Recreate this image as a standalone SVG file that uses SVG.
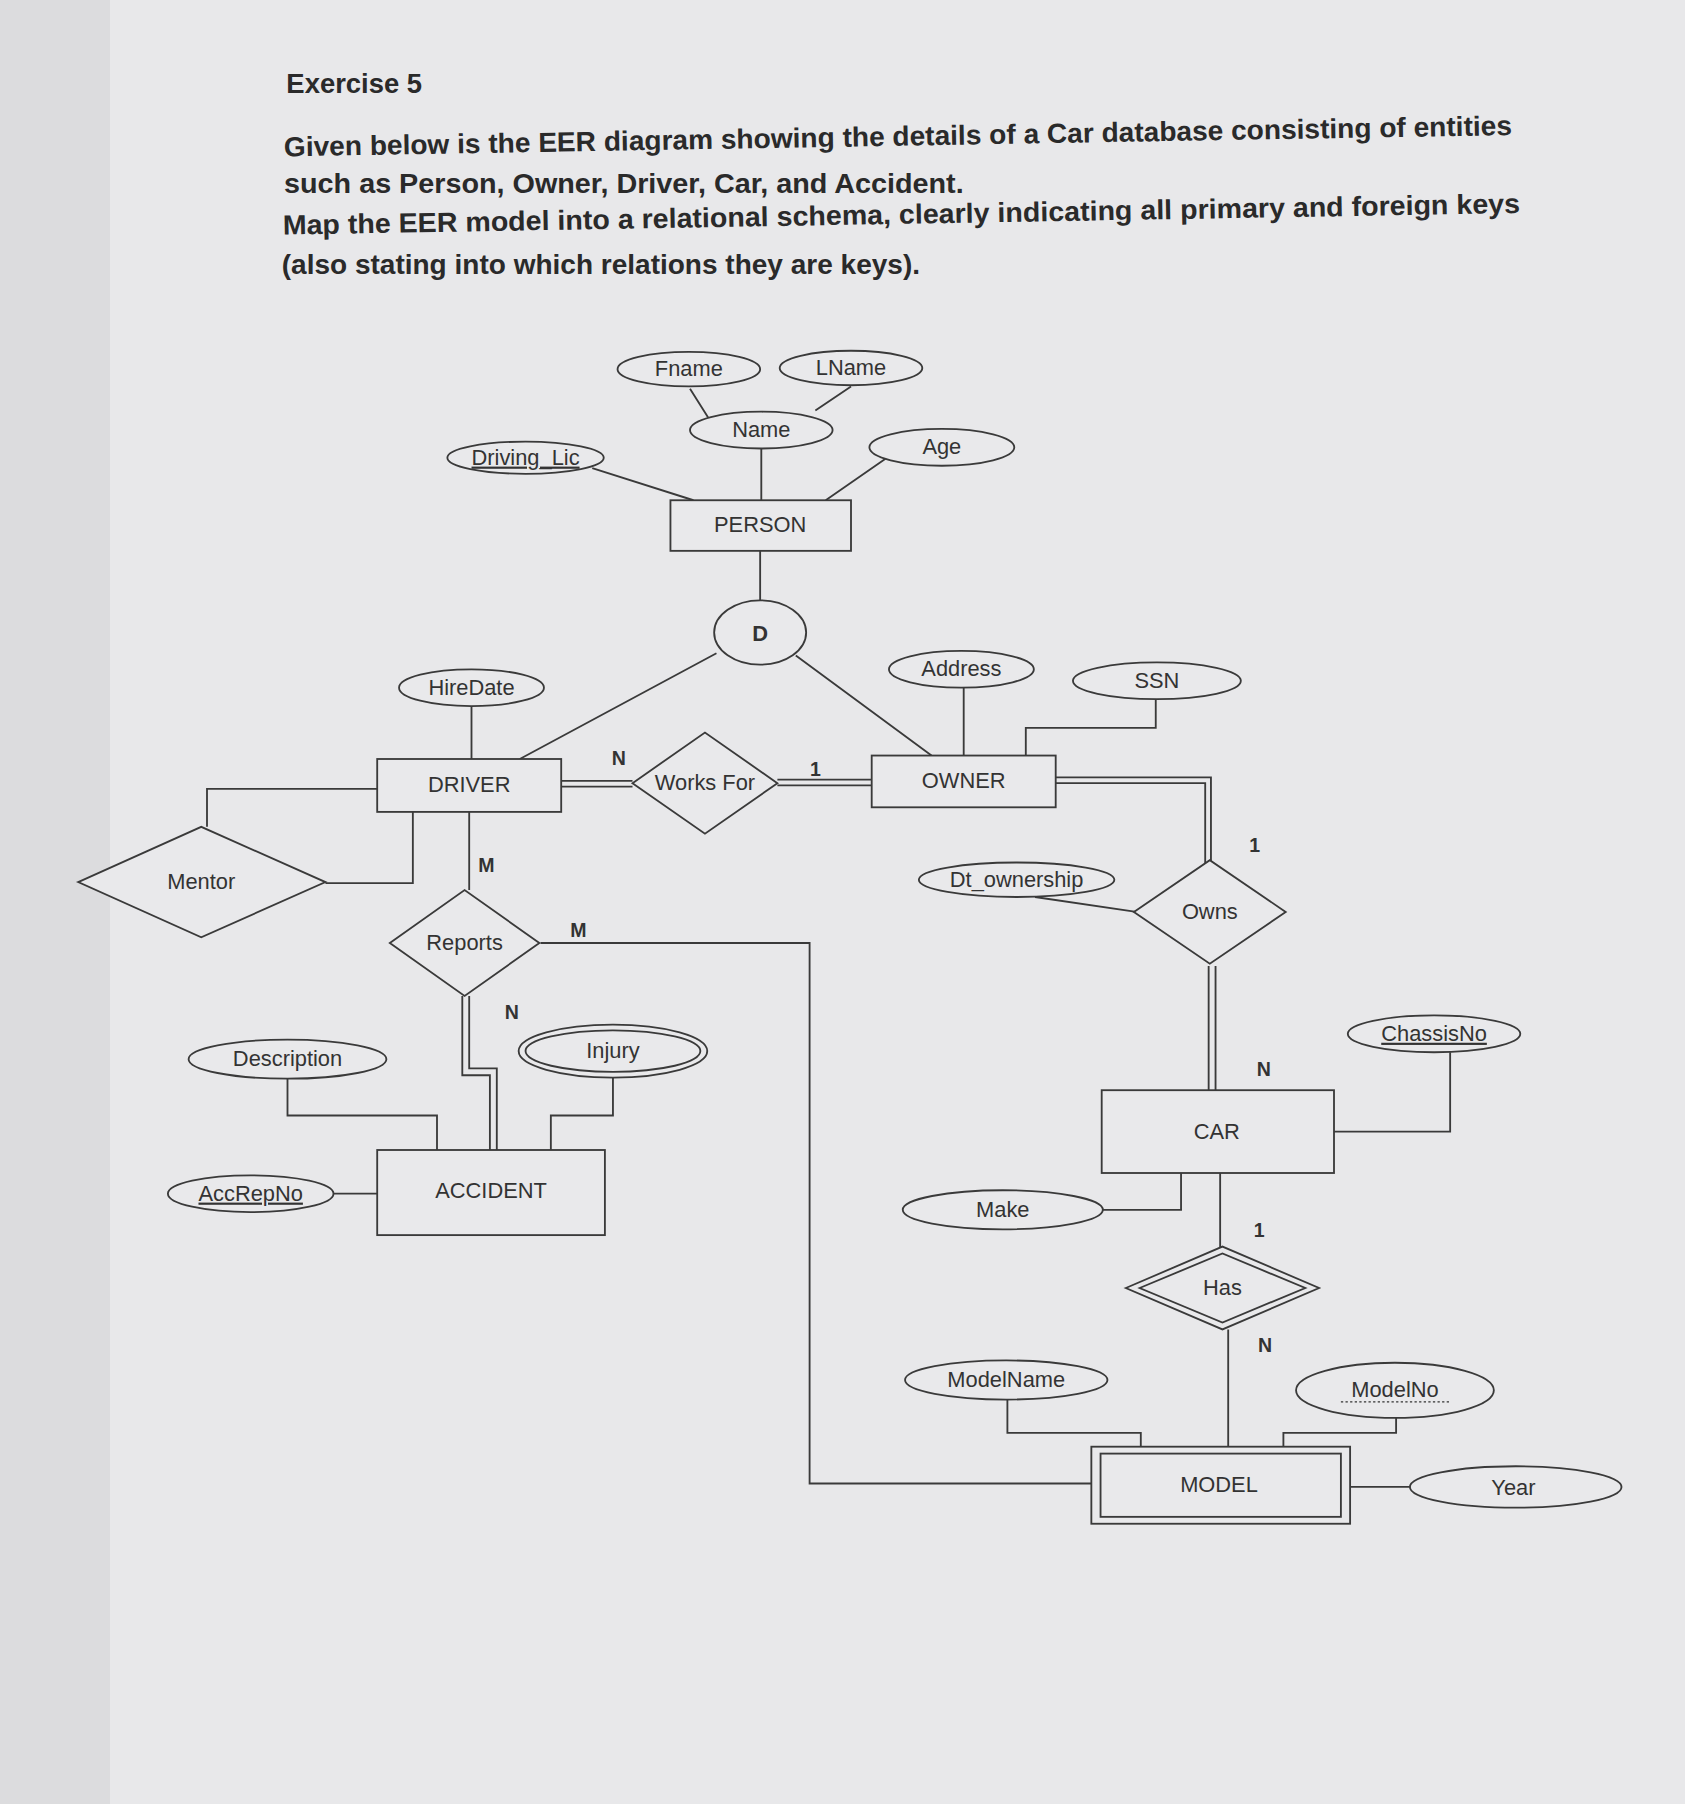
<svg xmlns="http://www.w3.org/2000/svg" width="1685" height="1804" viewBox="0 0 1685 1804">
<style>
.s{fill:none;stroke:#3a3a3a;stroke-width:1.6}
.n{fill:#e9e9eb;stroke:#3a3a3a;stroke-width:1.6}
.t{font-family:"Liberation Sans",Arial,sans-serif;font-size:19px;fill:#333;text-anchor:middle}
.h{font-family:"Liberation Sans",Arial,sans-serif;font-size:24px;font-weight:bold;fill:#2a2a2a}
.l{font-family:"Liberation Sans",Arial,sans-serif;font-size:17px;font-weight:bold;fill:#333;text-anchor:middle}
</style>
<rect width="1685" height="1804" fill="#e8e8ea"/>
<rect width="110" height="1804" fill="#dcdcde"/>
<g transform="scale(1.15)">
<text class="h" x="249" y="81" textLength="118" lengthAdjust="spacingAndGlyphs">Exercise 5</text>
<text class="h" x="247" y="136" transform="rotate(-1 247 136)" textLength="1068" lengthAdjust="spacingAndGlyphs">Given below is the EER diagram showing the details of a Car database consisting of entities</text>
<text class="h" x="247" y="168" textLength="591" lengthAdjust="spacingAndGlyphs">such as Person, Owner, Driver, Car, and Accident.</text>
<text class="h" x="246" y="204" transform="rotate(-1 246 204)" textLength="1076" lengthAdjust="spacingAndGlyphs">Map the EER model into a relational schema, clearly indicating all primary and foreign keys</text>
<text class="h" x="245" y="238" textLength="555" lengthAdjust="spacingAndGlyphs">(also stating into which relations they are keys).</text>

<g id="connectors">
<path class="s" d="M600 338L617 365M740 336L709 357M662 390V435M770 399L718 435M515 407L603 435M661 479V522M623 568L452 660M692 570L810 657M410 614V660M838 598V657M1005 608V633H892V657"/>
<path class="s" d="M488 679H550M488 684H550M676 678H758M676 683H758"/>
<path class="s" d="M918 676H1053V750M918 681H1048V752"/>
<path class="s" d="M180 719V686H328M283 768H359V706M408 706V774"/>
<path class="s" d="M402 866V935H426V1000M408 866V929H432V1000"/>
<path class="s" d="M470 820H704V1290H949"/>
<path class="s" d="M250 938V970H380V1000M533 937V970H479V1000M290 1038H328M900 780L988 793"/>
<path class="s" d="M1051 840V948M1057 840V948M1261 915V984H1160M959 1052H1027V1020M1061 1020V1085M1068 1156V1258"/>
<path class="s" d="M876 1217V1246H992V1258M1214 1233V1246H1116V1258M1174 1293H1226"/>
<text class="l" x="538" y="665">N</text>
<text class="l" x="709" y="675">1</text>
<text class="l" x="1091" y="741">1</text>
<text class="l" x="423" y="758">M</text>
<text class="l" x="503" y="815">M</text>
<text class="l" x="445" y="886">N</text>
<text class="l" x="1099" y="936">N</text>
<text class="l" x="1095" y="1076">1</text>
<text class="l" x="1100" y="1176">N</text>
</g>

<g id="Fname"><ellipse class="n" cx="599" cy="321" rx="62" ry="15"/><text class="t" x="599" y="327">Fname</text></g>
<g id="LName"><ellipse class="n" cx="740" cy="320" rx="62" ry="15"/><text class="t" x="740" y="326">LName</text></g>
<g id="Name"><ellipse class="n" cx="662" cy="374" rx="62" ry="16"/><text class="t" x="662" y="380">Name</text></g>
<g id="Age"><ellipse class="n" cx="819" cy="389" rx="63" ry="16"/><text class="t" x="819" y="395">Age</text></g>
<g id="Driving_Lic"><ellipse class="n" cx="457" cy="398" rx="68" ry="14"/><text class="t" x="457" y="404" text-decoration="underline">Driving_Lic</text></g>
<g id="PERSON"><rect class="n" x="583" y="435" width="157" height="44"/><text class="t" x="661" y="463">PERSON</text></g>
<g id="D"><ellipse class="n" cx="661" cy="550" rx="40" ry="28"/><text class="t" x="661" y="557" font-weight="bold">D</text></g>
<g id="HireDate"><ellipse class="n" cx="410" cy="598" rx="63" ry="16"/><text class="t" x="410" y="604">HireDate</text></g>
<g id="Address"><ellipse class="n" cx="836" cy="582" rx="63" ry="16"/><text class="t" x="836" y="588">Address</text></g>
<g id="SSN"><ellipse class="n" cx="1006" cy="592" rx="73" ry="16"/><text class="t" x="1006" y="598">SSN</text></g>
<g id="DRIVER"><rect class="n" x="328" y="660" width="160" height="46"/><text class="t" x="408" y="689">DRIVER</text></g>
<g id="WorksFor"><polygon class="n" points="550,681 613,637 676,681 613,725"/><text class="t" x="613" y="687">Works For</text></g>
<g id="OWNER"><rect class="n" x="758" y="657" width="160" height="45"/><text class="t" x="838" y="685">OWNER</text></g>
<g id="Mentor"><polygon class="n" points="68,767 175,719 283,767 175,815"/><text class="t" x="175" y="773">Mentor</text></g>
<g id="Reports"><polygon class="n" points="339,820 404,774 469,820 404,866"/><text class="t" x="404" y="826">Reports</text></g>
<g id="Dt_ownership"><ellipse class="n" cx="884" cy="765" rx="85" ry="15"/><text class="t" x="884" y="771">Dt_ownership</text></g>
<g id="Owns"><polygon class="n" points="986,793 1052,748 1118,793 1052,838"/><text class="t" x="1052" y="799">Owns</text></g>
<g id="Description"><ellipse class="n" cx="250" cy="921" rx="86" ry="17"/><text class="t" x="250" y="927">Description</text></g>
<g id="Injury"><ellipse class="n" cx="533" cy="914" rx="82" ry="23"/><ellipse class="s" cx="533" cy="914" rx="76" ry="18"/><text class="t" x="533" y="920">Injury</text></g>
<g id="ChassisNo"><ellipse class="n" cx="1247" cy="899" rx="75" ry="16"/><text class="t" x="1247" y="905" text-decoration="underline">ChassisNo</text></g>
<g id="CAR"><rect class="n" x="958" y="948" width="202" height="72"/><text class="t" x="1058" y="990">CAR</text></g>
<g id="AccRepNo"><ellipse class="n" cx="218" cy="1038" rx="72" ry="16"/><text class="t" x="218" y="1044" text-decoration="underline">AccRepNo</text></g>
<g id="ACCIDENT"><rect class="n" x="328" y="1000" width="198" height="74"/><text class="t" x="427" y="1042">ACCIDENT</text></g>
<g id="Make"><ellipse class="n" cx="872" cy="1052" rx="87" ry="17"/><text class="t" x="872" y="1058">Make</text></g>
<g id="Has"><polygon class="n" points="979,1120 1063,1084 1147,1120 1063,1156"/><polygon class="s" points="991,1120 1063,1090 1135,1120 1063,1150"/><text class="t" x="1063" y="1126">Has</text></g>
<g id="ModelName"><ellipse class="n" cx="875" cy="1200" rx="88" ry="17"/><text class="t" x="875" y="1206">ModelName</text></g>
<g id="ModelNo"><ellipse class="n" cx="1213" cy="1209" rx="86" ry="24"/><text class="t" x="1213" y="1215">ModelNo</text><line x1="1166" y1="1219" x2="1260" y2="1219" stroke="#333" stroke-dasharray="2,2"/></g>
<g id="MODEL"><rect class="n" x="949" y="1258" width="225" height="67"/><rect class="s" x="957" y="1264" width="209" height="55"/><text class="t" x="1060" y="1297">MODEL</text></g>
<g id="Year"><ellipse class="n" cx="1318" cy="1293" rx="92" ry="18"/><text class="t" x="1316" y="1300">Year</text></g>
</g>
</svg>
